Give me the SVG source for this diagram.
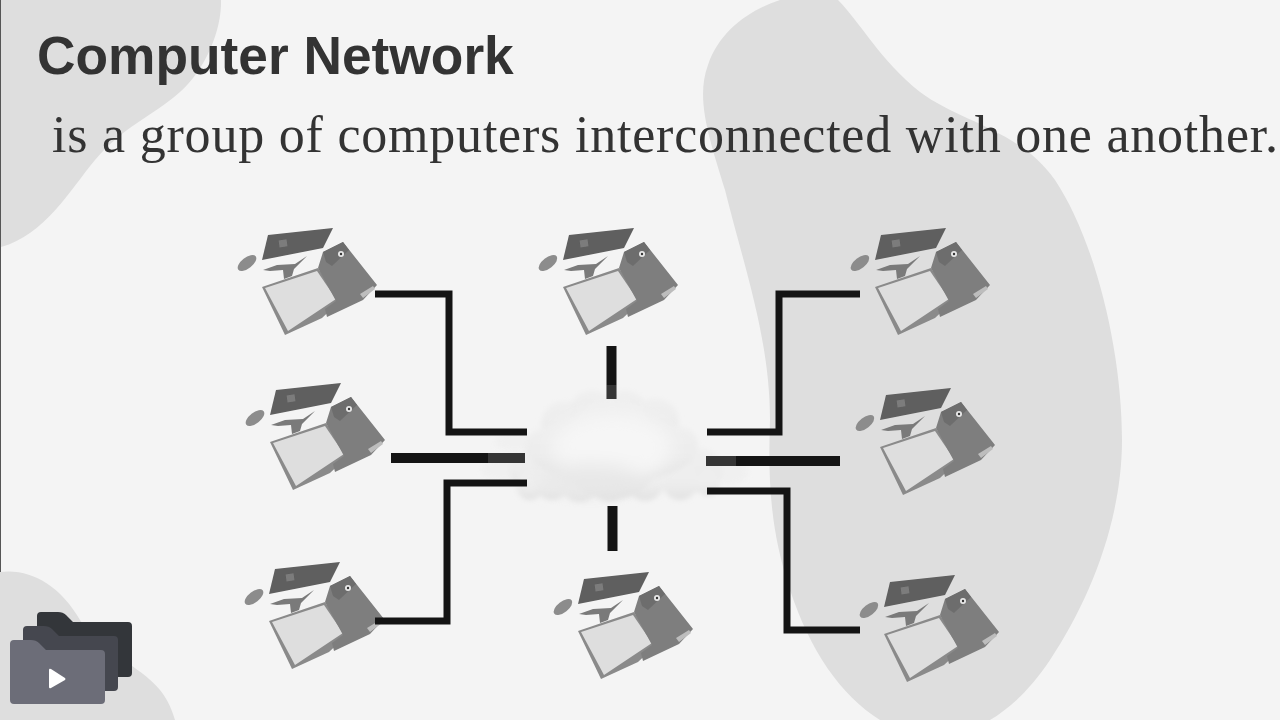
<svg xmlns="http://www.w3.org/2000/svg" width="1280" height="720" viewBox="0 0 1280 720">
<style>
.blob{fill:#dedede}
.wire{fill:none;stroke:#141414;stroke-width:7;stroke-linejoin:miter}
.thick{stroke-width:10}
.title{font:bold 53.300px "Liberation Sans",Arial,sans-serif;fill:#333333}
.sub{font:52px "Liberation Serif","Times New Roman",serif;fill:#333333}
</style>
<defs>
<filter id="soft" x="-20%" y="-20%" width="140%" height="140%"><feGaussianBlur stdDeviation="2.500"/></filter>
<filter id="soft3" x="-20%" y="-20%" width="140%" height="140%"><feGaussianBlur stdDeviation="9"/></filter>
<filter id="soft2" x="-10%" y="-10%" width="120%" height="120%"><feGaussianBlur stdDeviation="0.7"/></filter>
<linearGradient id="cloudfill" x1="0" y1="0" x2="0" y2="1"><stop offset="0" stop-color="#f0f0f0"/><stop offset="0.6" stop-color="#ececec"/><stop offset="1" stop-color="#e2e2e2"/></linearGradient>
<g id="pc" filter="url(#soft2)">
<polygon points="268,235 333,228 323,248 262,260" fill="#5e5e5e"/>
<rect x="279" y="240" width="8" height="7" fill="#7c7c7c" transform="rotate(-8 282 243)"/>
<ellipse cx="247" cy="263" rx="11" ry="5.500" transform="rotate(-38 247 263)" fill="#8c8c8c"/>
<polygon points="263,270 277,265 295,264 307,256 294,269 292,276 284,279 283,270 270,271" fill="#7a7a7a"/>
<polygon points="262,287 318,268 340,301 322,318 285,335" fill="#8a8a8a"/>
<polygon points="265,288 317,271 336,299 288,331" fill="#dedede"/>
<polygon points="323,252 343,242 377,285 363,300 327,317 325,309 336,301 318,268" fill="#7e7e7e"/>
<polygon points="323,252 343,242 349,250 332,266 326,262" fill="#6d6d6d"/>
<polygon points="360,294 373,286 375,289 363,298" fill="#bdbdbd"/>
<circle cx="341" cy="254" r="3" fill="#e8e8e8"/><circle cx="341" cy="254" r="1.200" fill="#333"/>
</g>
</defs>
<rect width="1280" height="720" fill="#f4f4f4"/>
<rect width="1" height="720" fill="#555555"/>
<g id="backdrop">
<path class="blob" d="M1,0H221C222,30 205,70 180,92C150,118 125,125 95,160C70,190 45,235 1,247Z"/>
<path class="blob" d="M780,0H838C860,22 880,60 920,92C960,122 1020,130 1055,180C1095,240 1122,350 1122,440C1122,520 1090,600 1050,660C1030,690 1010,708 990,720H880C840,695 810,650 790,590C770,530 768,480 770,420C770,340 745,270 725,190C710,140 695,100 708,65C720,30 750,10 780,0Z"/>
<path class="blob" d="M0,572C30,568 60,585 80,620C100,652 140,665 160,690C168,700 172,710 175,720H0Z"/>
</g>
<text class="title" x="37" y="74">Computer Network</text>
<text class="sub" x="52" y="152" textLength="1226" lengthAdjust="spacing">is a group of computers interconnected with one another.</text>
<g id="cloud">
<g opacity="0.6" filter="url(#soft)" fill="#eeeeee">
<ellipse cx="505" cy="470" rx="24" ry="11"/><ellipse cx="515" cy="442" rx="20" ry="9"/><ellipse cx="728" cy="472" rx="20" ry="13"/>
</g>
<g filter="url(#soft)" fill="url(#cloudfill)">
<circle cx="565" cy="425" r="24"/><circle cx="592" cy="412" r="22"/><circle cx="625" cy="412" r="22"/><circle cx="655" cy="422" r="24"/><circle cx="680" cy="445" r="18"/>
<circle cx="545" cy="448" r="20"/><circle cx="525" cy="470" r="16"/><circle cx="700" cy="470" r="22"/><circle cx="530" cy="486" r="14"/><circle cx="552" cy="482" r="18"/><circle cx="580" cy="482" r="20"/>
<circle cx="610" cy="482" r="20"/><circle cx="645" cy="482" r="19"/><circle cx="680" cy="482" r="18"/><circle cx="708" cy="484" r="12"/><circle cx="612" cy="450" r="50"/>
<ellipse cx="612" cy="450" rx="85" ry="32"/>
</g>
<g filter="url(#soft3)"><ellipse cx="612" cy="448" rx="60" ry="34" fill="#f6f6f6"/><ellipse cx="590" cy="478" rx="50" ry="14" fill="#e8e8e8"/></g>
</g>
<g id="computer-1"><use href="#pc"/></g>
<g id="computer-2"><use href="#pc" x="301" y="0"/></g>
<g id="computer-3"><use href="#pc" x="613" y="0"/></g>
<g id="computer-4"><use href="#pc" x="8" y="155"/></g>
<g id="computer-5"><use href="#pc" x="618" y="160"/></g>
<g id="computer-6"><use href="#pc" x="7" y="334"/></g>
<g id="computer-7"><use href="#pc" x="316" y="344"/></g>
<g id="computer-8"><use href="#pc" x="622" y="347"/></g>
<g id="connectors">
<path class="wire" d="M375,294H449V432H527"/>
<path class="wire thick" d="M391,458H525"/>
<path class="wire" d="M375,621H447V483H527"/>
<path class="wire thick" d="M611.500,346V399"/>
<path class="wire thick" d="M612.500,506V551"/>
<path class="wire" d="M860,294H779V432H707"/>
<path class="wire thick" d="M706,461H840"/>
<path class="wire" d="M707,491H787V630H860"/>
</g>
<g id="cloud-haze" fill="#ffffff" opacity="0.14">
<rect x="488" y="453" width="37" height="10"/>
<rect x="706" y="456" width="30" height="10"/>
<rect x="606.500" y="385" width="10" height="14"/>
</g>
<g id="folder-icon">
<path d="M41,612H58Q63,612 66,615L73,622H128Q132,622 132,626V673Q132,677 128,677H41Q37,677 37,673V616Q37,612 41,612Z" fill="#33363a"/>
<path d="M27,626H44Q49,626 52,629L59,636H114Q118,636 118,640V687Q118,691 114,691H27Q23,691 23,687V630Q23,626 27,626Z" fill="#45474f"/>
<path d="M14,640H31Q36,640 39,643L46,650H101Q105,650 105,654V700Q105,704 101,704H14Q10,704 10,700V644Q10,640 14,640Z" fill="#6c6d78"/>
<path d="M49,670Q49,668 51,669L65,678Q66,679 65,680L51,688Q49,689 49,687Z" fill="#ffffff"/>
</g>
</svg>
